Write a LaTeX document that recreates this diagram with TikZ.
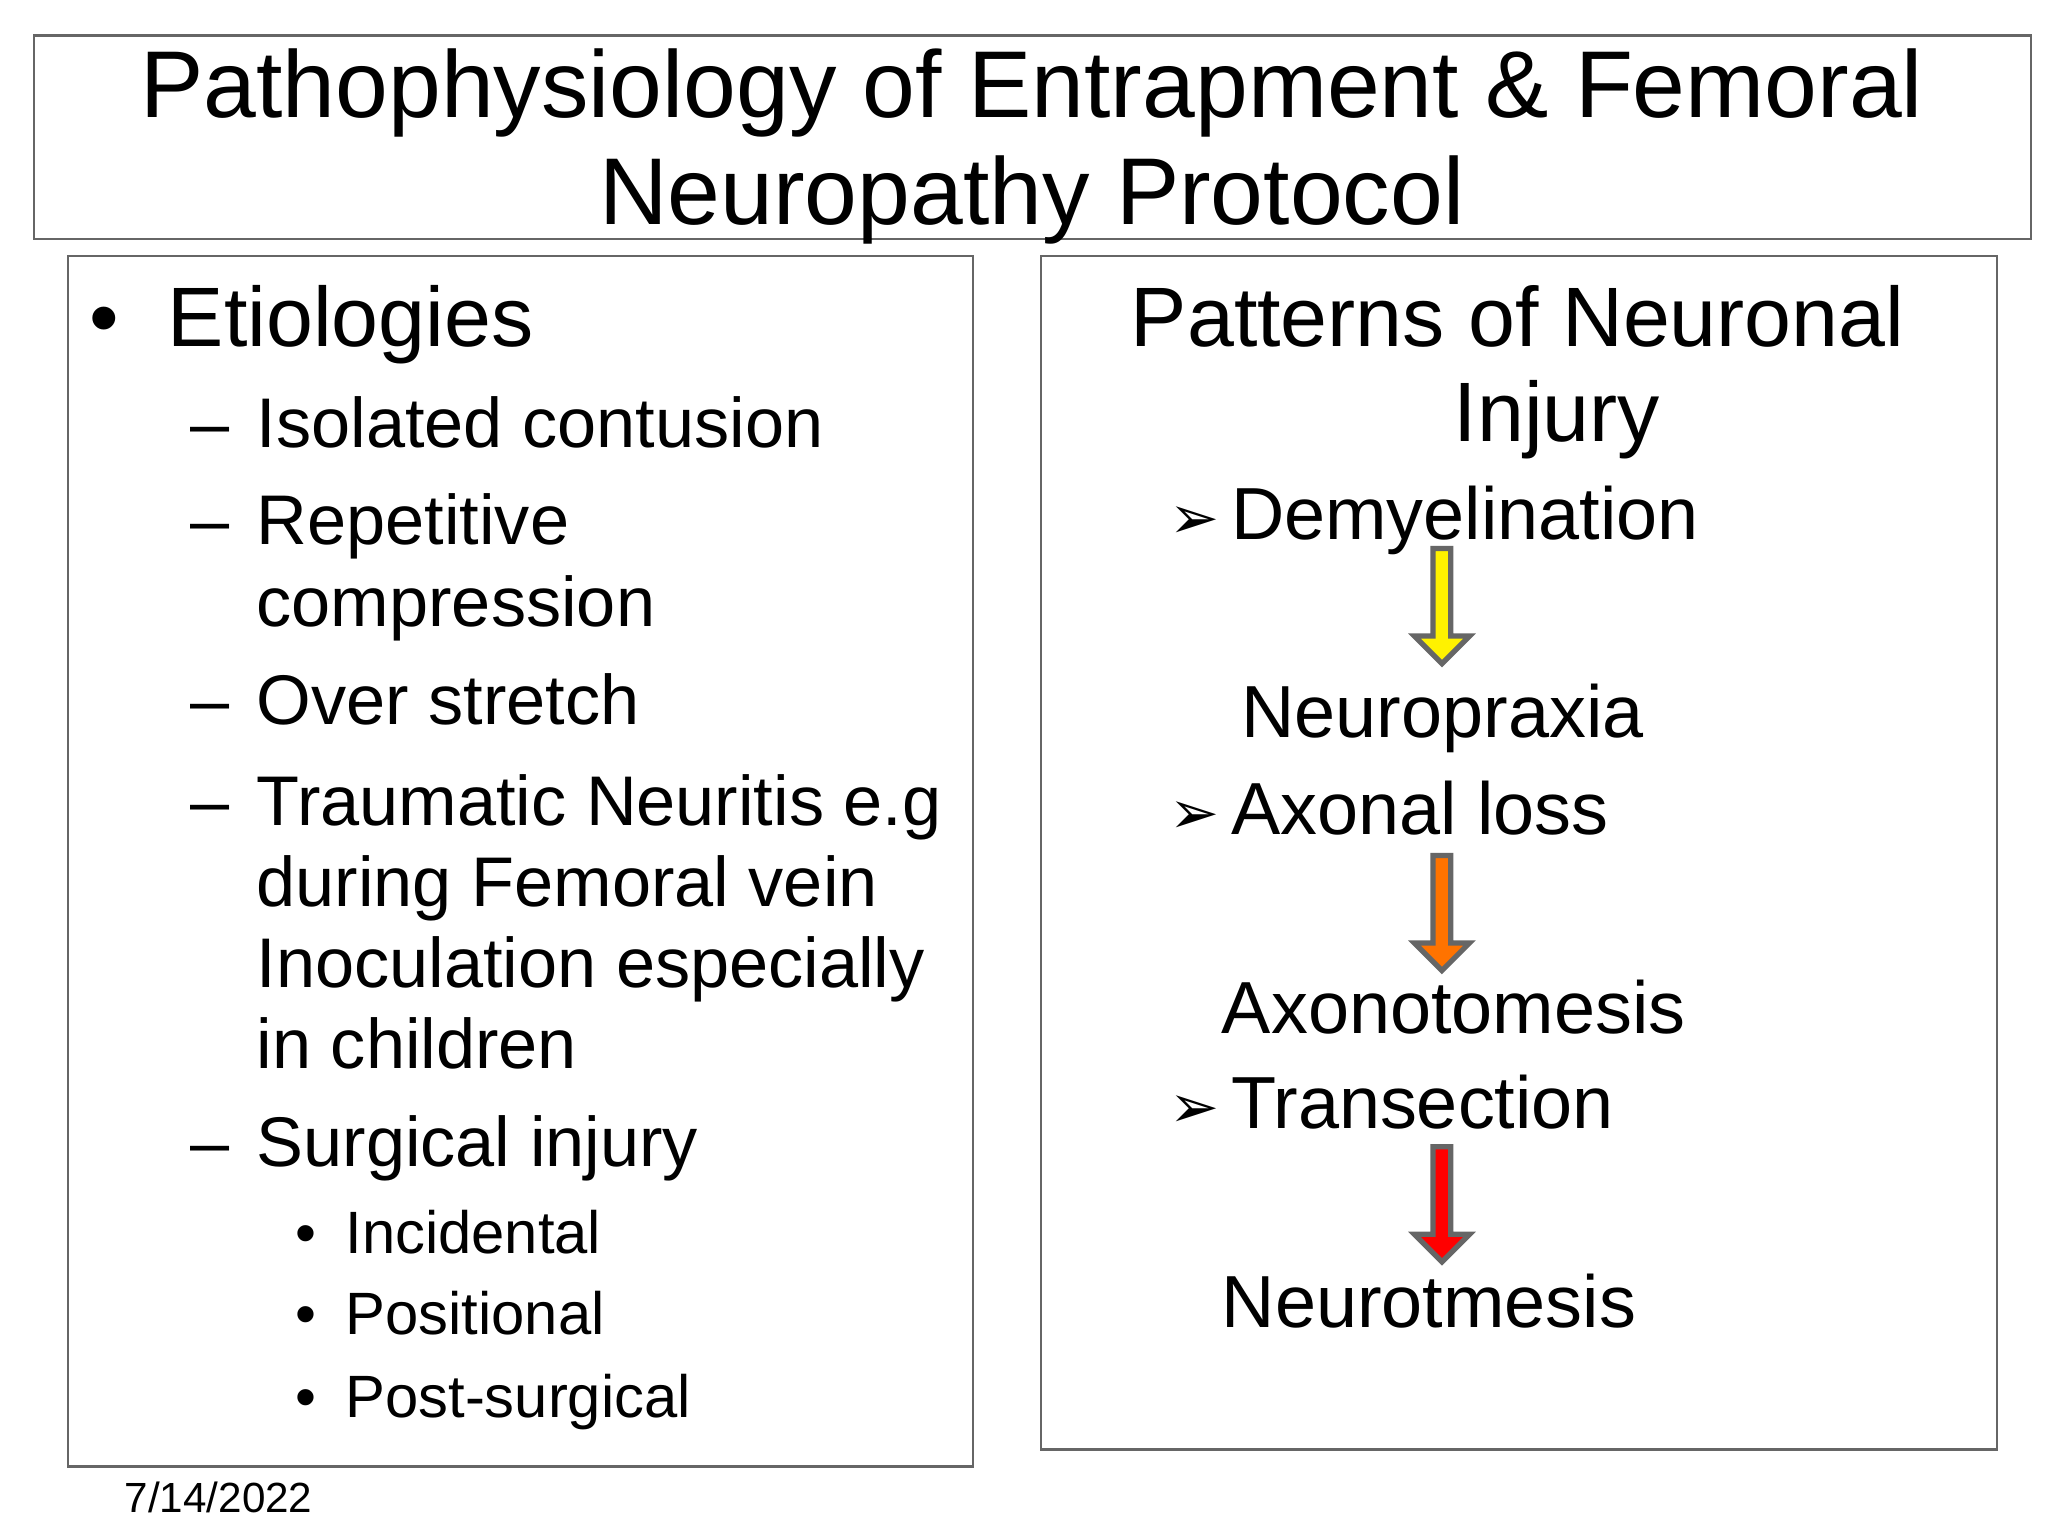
\documentclass[tikz,border=0pt]{standalone}
\usepackage{fontspec}
\setmainfont{Liberation Sans}
\newfontfamily\dingfont{DejaVu Sans}
\usetikzlibrary{positioning}
\usetikzlibrary{shapes,arrows}
\tikzstyle{frame} = [draw=black!60, line width=0.8pt]
\tikzstyle{txt} = [anchor=base west, inner sep=0pt]
\tikzstyle{ctxt} = [anchor=base, inner sep=0pt]
\tikzstyle{bigarrow} = [single arrow, draw=gray!80!black, line width=1.5pt,
                minimum height=1.15cm, minimum width=0.55cm, single arrow head extend=0.16cm,
                shape border rotate=270, inner sep=0.05cm, anchor=north]
\newcommand{\tip}{{\dingfont\char"27A2}}
\begin{document}
\begin{tikzpicture}[x=0.013061cm, y=-0.013061cm]
    \useasboundingbox (0,0) rectangle (1568,1176);
    \fill[white] (0,0) rectangle (1568,1176);
    % boxes
    \draw[frame] (26,27) rectangle (1555,183);
    \draw[frame] (52,196) rectangle (745,1123);
    \draw[frame] (797,196) rectangle (1529,1110);
    % title
    \node[ctxt, font=\fontsize{27}{30}\selectfont](title1) at (790,90){Pathophysiology of Entrapment \& Femoral};
    \node[ctxt, font=\fontsize{27}{30}\selectfont](title2) at (790,172){Neuropathy Protocol};
    % left column
    \node[txt, font=\fontsize{24}{28}\selectfont](bul) at (68,265){\textbullet};
    \node[txt, font=\fontsize{24}{28}\selectfont](etio) at (128,265){Etiologies};
    \node[txt, font=\fontsize{20}{24}\selectfont](d1) at (145,343){--};
    \node[txt, font=\fontsize{20}{24}\selectfont](isol) at (196,343){Isolated contusion};
    \node[txt, font=\fontsize{20}{24}\selectfont](d2) at (145,417){--};
    \node[txt, font=\fontsize{20}{24}\selectfont](rep) at (196,417){Repetitive};
    \node[txt, font=\fontsize{20}{24}\selectfont](comp) at (196,480){compression};
    \node[txt, font=\fontsize{20}{24}\selectfont](d3) at (145,555){--};
    \node[txt, font=\fontsize{20}{24}\selectfont](over) at (196,555){Over stretch};
    \node[txt, font=\fontsize{20}{24}\selectfont](d4) at (145,632){--};
    \node[txt, font=\fontsize{20}{24}\selectfont](trau) at (196,632){Traumatic Neuritis e.g};
    \node[txt, font=\fontsize{20}{24}\selectfont](dur) at (196,694){during Femoral vein};
    \node[txt, font=\fontsize{20}{24}\selectfont](inoc) at (196,756){Inoculation especially};
    \node[txt, font=\fontsize{20}{24}\selectfont](chil) at (196,818){in children};
    \node[txt, font=\fontsize{20}{24}\selectfont](d5) at (145,893){--};
    \node[txt, font=\fontsize{20}{24}\selectfont](surg) at (196,893){Surgical injury};
    \node[txt, font=\fontsize{17}{20}\selectfont](b1) at (226,960){\textbullet};
    \node[txt, font=\fontsize{17}{20}\selectfont](inci) at (264,960){Incidental};
    \node[txt, font=\fontsize{17}{20}\selectfont](b2) at (226,1022){\textbullet};
    \node[txt, font=\fontsize{17}{20}\selectfont](posi) at (264,1022){Positional};
    \node[txt, font=\fontsize{17}{20}\selectfont](b3) at (226,1085){\textbullet};
    \node[txt, font=\fontsize{17}{20}\selectfont](post) at (264,1085){Post-surgical};
    % right column
    \node[ctxt, font=\fontsize{24}{28}\selectfont](patt) at (1162,265){Patterns of Neuronal};
    \node[ctxt, font=\fontsize{24}{28}\selectfont](inj) at (1192,338){Injury};
    \node[txt, font=\fontsize{17}{20}\selectfont](t1) at (895,412){\tip};
    \node[txt, font=\fontsize{21}{24}\selectfont](demy) at (942,413){Demyelination};
    \node[txt, font=\fontsize{21}{24}\selectfont](neup) at (950,565){Neuropraxia};
    \node[txt, font=\fontsize{17}{20}\selectfont](t2) at (895,638){\tip};
    \node[txt, font=\fontsize{21}{24}\selectfont](axon) at (942,639){Axonal loss};
    \node[txt, font=\fontsize{21}{24}\selectfont](axto) at (935,791){Axonotomesis};
    \node[txt, font=\fontsize{17}{20}\selectfont](t3) at (895,863){\tip};
    \node[txt, font=\fontsize{21}{24}\selectfont](tran) at (942,864){Transection};
    \node[txt, font=\fontsize{21}{24}\selectfont](neut) at (935,1016){Neurotmesis};
    % block arrows
    \node[bigarrow, fill=yellow](a1) at (1104,418){};
    \node[bigarrow, fill=orange!90!red](a2) at (1104,653){};
    \node[bigarrow, fill=red](a3) at (1104,876){};
    % date
    \node[txt, font=\fontsize{12}{14}\selectfont](date) at (95,1158){7/14/2022};
\end{tikzpicture}
\end{document}
